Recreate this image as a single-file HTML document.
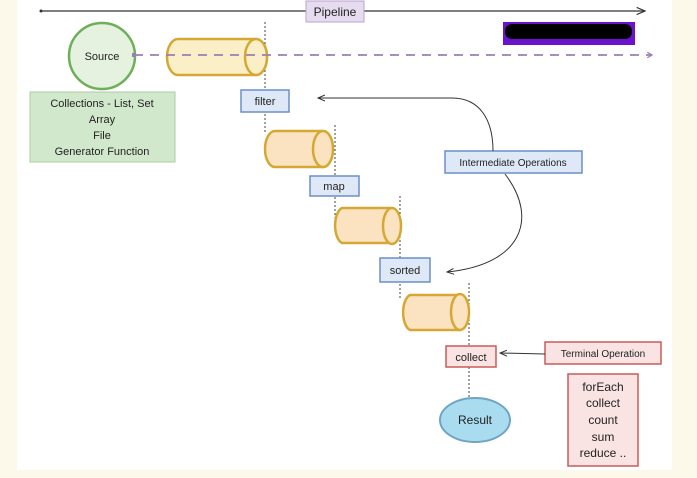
<!DOCTYPE html>
<html><head><meta charset="utf-8"><style>
html,body{margin:0;padding:0;background:#fcf8ea}
svg{display:block}
text{font-family:"Liberation Sans",sans-serif;fill:#222}
</style></head><body>
<svg width="697" height="478" viewBox="0 0 697 478" xmlns="http://www.w3.org/2000/svg">
<defs>
<marker id="a" markerWidth="8" markerHeight="8" refX="7" refY="4" orient="auto"><path d="M0,1 L7,4 L0,7" fill="none" stroke="#333" stroke-width="1"/></marker>
<marker id="p" markerWidth="6" markerHeight="6" refX="5" refY="3" orient="auto" markerUnits="userSpaceOnUse"><path d="M0,0 L5,3 L0,6" fill="none" stroke="#9a7fb5" stroke-width="1.2"/></marker>
</defs>
<rect x="0" y="0" width="697" height="478" fill="#fcf8ea"/>
<rect x="17" y="0" width="655" height="470" fill="#fff"/>
<line x1="40" y1="11" x2="645" y2="11" stroke="#333" stroke-width="1.2" marker-end="url(#a)"/>
<circle cx="41" cy="11" r="1.5" fill="#333"/>
<rect x="306" y="1" width="58" height="21" fill="#e6dcef" stroke="#b9a3cc"/>
<text x="335" y="16" font-size="12" text-anchor="middle">Pipeline</text>
<rect x="503" y="22" width="132" height="23" fill="#6a12cc"/>
<rect x="505" y="24" width="127" height="15" rx="7" fill="#000"/>
<circle cx="102" cy="56" r="33" fill="#e4f2df" stroke="#6fae5a" stroke-width="2.5"/>
<text x="102" y="60" font-size="11" text-anchor="middle">Source</text>
<rect x="30" y="92" width="145" height="70" fill="#d2e8cc" stroke="#a8cf9e"/>
<text x="102" y="107" font-size="11" text-anchor="middle">Collections - List, Set</text>
<text x="102" y="123" font-size="11" text-anchor="middle">Array</text>
<text x="102" y="139" font-size="11" text-anchor="middle">File</text>
<text x="102" y="155" font-size="11" text-anchor="middle">Generator Function</text>
<g stroke="#444" stroke-width="1" stroke-dasharray="2,2">
<line x1="265" y1="22" x2="265" y2="132"/>
<line x1="335" y1="125" x2="335" y2="220"/>
<line x1="400" y1="196" x2="400" y2="300"/>
<line x1="469" y1="283" x2="469" y2="397"/>
</g>
<g stroke="#d4a833" stroke-width="2.5">
<path d="M178,39 H256 A11,18 0 0 1 256,75 H178 A11,18 0 0 1 178,39 Z" fill="#fbefc8"/>
<ellipse cx="256" cy="57" rx="11" ry="18" fill="#fbefc8"/>
<path d="M275,131 H323 A10,18 0 0 1 323,167 H275 A10,18 0 0 1 275,131 Z" fill="#fbe3c2"/>
<ellipse cx="323" cy="149" rx="10" ry="18" fill="#fbe3c2"/>
<path d="M342,208 H392 A9,18 0 0 1 392,243 H342 A9,18 0 0 1 342,208 Z" fill="#fbe3c2"/>
<ellipse cx="392" cy="226" rx="9" ry="18" fill="#fbe3c2"/>
<path d="M410,295 H460 A9,18 0 0 1 460,330 H410 A9,18 0 0 1 410,295 Z" fill="#fbe3c2"/>
<ellipse cx="460" cy="312" rx="9" ry="18" fill="#fbe3c2"/>
</g>
<line x1="134" y1="55" x2="652" y2="55" stroke="#9a7fb5" stroke-width="1.8" stroke-dasharray="9,7" marker-end="url(#p)"/>
<rect x="132" y="53" width="4" height="4" fill="#9a7fb5"/>
<g stroke="#6c8fc7" stroke-width="1.5" fill="#dfe8f6">
<rect x="241" y="90" width="48" height="22"/>
<rect x="310" y="176" width="49" height="20"/>
<rect x="380" y="258" width="50" height="24"/>
<rect x="445" y="151" width="137" height="22"/>
</g>
<text x="265" y="105" font-size="11" text-anchor="middle">filter</text>
<text x="334" y="190" font-size="11" text-anchor="middle">map</text>
<text x="405" y="274" font-size="11" text-anchor="middle">sorted</text>
<text x="513" y="166" font-size="10" text-anchor="middle">Intermediate Operations</text>
<path d="M493,151 C493,120 480,98 452,98 L318,98" fill="none" stroke="#333" stroke-width="1" marker-end="url(#a)"/>
<path d="M505,174 C540,220 520,265 447,272" fill="none" stroke="#333" stroke-width="1" marker-end="url(#a)"/>
<g stroke="#c95b5b" stroke-width="1.5" fill="#fae3e3">
<rect x="446" y="346" width="50" height="21"/>
<rect x="545" y="342" width="116" height="22"/>
<rect x="568" y="374" width="70" height="92"/>
</g>
<text x="471" y="361" font-size="11" text-anchor="middle">collect</text>
<text x="603" y="357" font-size="10" text-anchor="middle">Terminal Operation</text>
<path d="M545,354 L500,353" stroke="#333" stroke-width="1" marker-end="url(#a)"/>
<g font-size="12" text-anchor="middle">
<text x="603" y="391">forEach</text>
<text x="603" y="407">collect</text>
<text x="603" y="424">count</text>
<text x="603" y="441">sum</text>
<text x="603" y="457">reduce ..</text>
</g>
<ellipse cx="475" cy="420" rx="35" ry="22" fill="#aadcf0" stroke="#6fa5c4" stroke-width="2"/>
<text x="475" y="424" font-size="12" text-anchor="middle">Result</text>
</svg>
</body></html>
